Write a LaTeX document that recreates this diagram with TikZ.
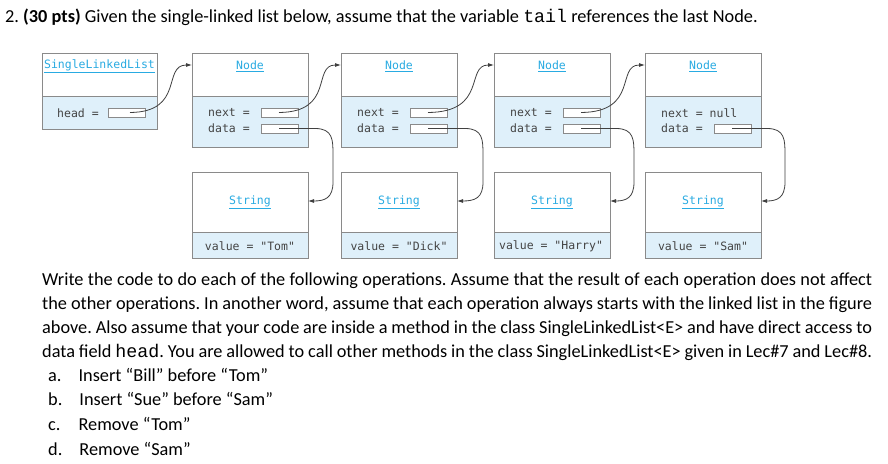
\documentclass[tikz,border=0pt]{standalone}
\usepackage{fontspec}
\setmainfont{Carlito}
\newfontfamily\cmono{DejaVu Sans Mono}
\newfontfamily\tmono{Liberation Mono}
\usetikzlibrary{arrows.meta}
\definecolor{fillb}{HTML}{DFF0FA}
\definecolor{titleb}{HTML}{29ABE2}
\definecolor{bord}{HTML}{8A8A8A}
\definecolor{txtg}{HTML}{444444}
\begin{document}
\frenchspacing
\begin{tikzpicture}[x=1pt,y=-1pt,
  box/.style={draw=bord,line width=0.9pt},
  fld/.style={draw=bord,line width=0.7pt,fill=white},
  ttl/.style={text=titleb,font=\cmono\fontsize{11.5}{13}\selectfont,inner sep=0pt},
  lbl/.style={text=txtg,font=\cmono\fontsize{11.5}{13}\selectfont,anchor=west,inner sep=0pt},
  ptr/.style={draw=black!75,line width=0.8pt,-{Latex[length=6pt,width=4pt]}},
  para/.style={anchor=base west,inner sep=0pt,font=\fontsize{18.3}{22}\selectfont}]
\useasboundingbox (0,0) rectangle (888,463);
\fill[white] (0,0) rectangle (888,463);
% title
\node[para] (title) at (5,23) {2. \textbf{(30 pts)} Given the single-linked list below, assume that the variable {\tmono tail} references the last Node.};
% SingleLinkedList box
\fill[fillb] (42,96) rectangle (157,129);
\draw[box] (42,53) rectangle (157,129); \draw[box] (42,96) -- (157,96);
\node[ttl] (sll) at (99.5,66) {\underline{SingleLinkedList}};
\node[lbl] (headl) at (57,113) {head =};
\draw[fld] (108,108) rectangle (145,117);
\coordinate (h0) at (130,112.5);
% Node boxes
\foreach \x/\n in {192/1,341/2,494/3,645/4}{
  \fill[fillb] (\x,96) rectangle ++(116,51);
  \draw[box] (\x,53) rectangle ++(116,94); \draw[box] (\x,96) -- ++(116,0);
  \node[ttl] (nt\n) at (\x+58,66) {\underline{Node}};
  \node[lbl] (dl\n) at (\x+16,128.5) {data =};
  \draw[fld] (\x+69,124) rectangle ++(37,9);
  \coordinate (d\n) at (\x+87,128.5);
  \coordinate (in\n) at (\x,65);
  \fill[fillb] (\x,232) rectangle ++(116,26);
  \draw[box] (\x,172) rectangle ++(116,86); \draw[box] (\x,232) -- ++(116,0);
  \node[ttl] (st\n) at (\x+58,202) {\underline{String}};
  \coordinate (sin\n) at (\x+116,201);
}
\foreach \x/\n in {192/1,341/2,494/3}{
  \node[lbl] (nl\n) at (\x+16,113) {next =};
  \draw[fld] (\x+69,108) rectangle ++(37,9);
  \coordinate (nx\n) at (\x+87,112.5);
}
\node[lbl] (nul) at (661,113) {next = null};
\node[lbl,anchor=center] (v1) at (250,246) {value = "Tom"};
\node[lbl,anchor=center] (v2) at (399,246) {value = "Dick"};
\node[lbl,anchor=center] (v3) at (551,246) {value = "Harry"};
\node[lbl,anchor=center] (v4) at (703,246) {value = "Sam"};
% pointers
\draw[ptr] (h0) .. controls (185,112) and (162,65) .. (in1);
\draw[ptr] (nx1) .. controls (335,112) and (312,65) .. (in2);
\draw[ptr] (nx2) .. controls (488,112) and (465,65) .. (in3);
\draw[ptr] (nx3) .. controls (639,112) and (616,65) .. (in4);
\foreach \n/\x in {1/333,2/483,3/634,4/785}{
  \draw[ptr] (d\n) -- (\x-18,128.5) .. controls (\x,128.5) and (\x,140) .. (\x,155) -- (\x,182) .. controls (\x,198) and (\x-8,201) .. (sin\n);
}
% paragraph
\foreach \y/\t in {
 280/{Write the code to do each of the following operations. Assume that the result of each operation does not affect},
 304/{the other operations. In another word, assume that each operation always starts with the linked list in the figure},
 328/{above. Also assume that your code are inside a method in the class SingleLinkedList<E> and have direct access to},
 352/{data field {\tmono head}. You are allowed to call other methods in the class SingleLinkedList<E> given in Lec\#7 and Lec\#8.}}{
  \node[para] at (42,\y+5) {\makebox[830pt][s]{\t}};
}
\node[para] (ia) at (48,381) {a.\hspace{17pt}Insert “Bill” before “Tom”};
\node[para] (ib) at (48,405) {b.\hspace{17pt}Insert “Sue” before “Sam”};
\node[para] (ic) at (48,430) {c.\hspace{18pt}Remove “Tom”};
\node[para] (id) at (48,455) {d.\hspace{17pt}Remove “Sam”};
\end{tikzpicture}
\end{document}
